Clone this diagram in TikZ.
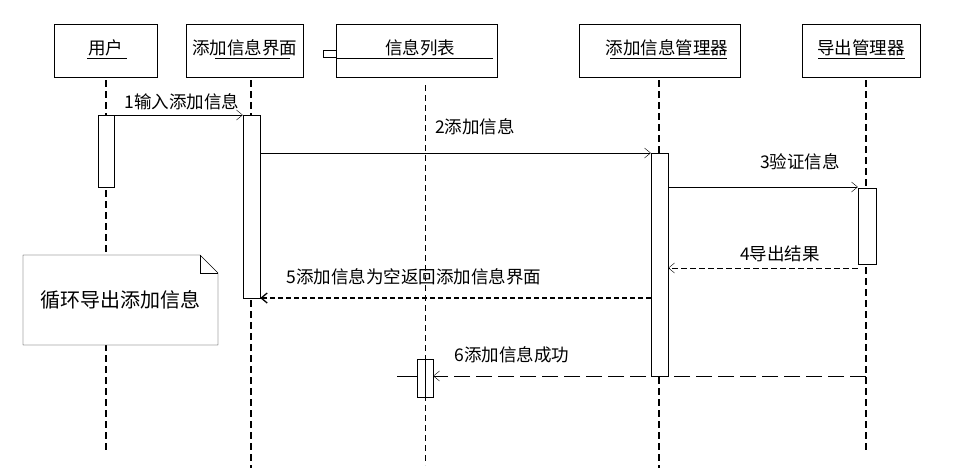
\documentclass[tikz,border=0pt]{standalone}
\usepackage{fontspec}
\setmainfont{Liberation Serif}
\newfontfamily\cjk{Noto Sans CJK SC}
\usetikzlibrary{arrows.meta}
\begin{document}
\begin{tikzpicture}[x=1pt,y=-1pt,
  obj/.style={draw,rectangle,inner sep=0pt},
  lbl/.style={font=\cjk\fontsize{17.5}{17.5}\selectfont,inner sep=1pt},
  act/.style={draw,fill=white,rectangle,inner sep=0pt},
  life/.style={line width=1.4pt,dash pattern=on 7pt off 4pt},
  thin life/.style={dash pattern=on 6pt off 4pt,line width=0.5pt},
  msg/.style={->,>={Straight Barb[length=6pt,width=10pt]}}, ]
\useasboundingbox (0,0) rectangle (963,472);
% objects
\node[obj,minimum width=103pt,minimum height=53pt] (o1) at (105.5,50.5) {};
\node[lbl] (t1) at (105.5,48) {用户};
\node[obj,minimum width=117pt,minimum height=53pt] (o2) at (244.5,50.5) {};
\node[lbl] (t2) at (244.5,48) {添加信息界面};
\node[obj,minimum width=161pt,minimum height=53pt] (o3) at (416.5,50.5) {};
\node[lbl] (t3) at (420,48) {信息列表};
\node[obj,minimum width=13pt,minimum height=7pt] (o3s) at (329.5,53.5) {};
\node[obj,minimum width=161pt,minimum height=53pt] (o4) at (659.5,50.5) {};
\node[lbl] (t4) at (667,48) {添加信息管理器};
\node[obj,minimum width=118pt,minimum height=53pt] (o5) at (861,50.5) {};
\node[lbl] (t5) at (861,48) {导出管理器};
\draw (87,58) -- (127,58);
\draw (215,58) -- (290,58);
\draw (336,58) -- (493,58);
\draw (610,58) -- (727,58);
\draw (818,58) -- (905,58);
% lifelines
\coordinate (l1e) at (106,450);
\coordinate (l2e) at (251,468);
\coordinate (l3s) at (425,85);
\coordinate (l3e) at (425,465);
\coordinate (l4e) at (659,468);
\coordinate (l5e) at (866,450);
\draw[life] (106,80) -- (l1e);
\draw[life] (251,80) -- (l2e);
\draw[thin life] (l3s) -- (l3e);
\draw[life] (659,80) -- (l4e);
\draw[life] (866,80) -- (l5e);
% activations
\node[act,minimum width=16pt,minimum height=72pt] (a1) at (106,151) {};
\node[act,minimum width=17pt,minimum height=183pt] (a2) at (251.5,206.5) {};
\node[act,minimum width=17pt,minimum height=223pt] (a4) at (659.5,264.5) {};
\node[act,minimum width=18pt,minimum height=76pt] (a5) at (867,226) {};
\node[draw,rectangle,inner sep=0pt,minimum width=16pt,minimum height=38pt] (a3) at (425,378) {};
\draw[thin life] (425,359) -- (425,397);
\coordinate (a3l) at (397,376);
\draw (a3l) -- (a3.west |- a3l);
% messages
\draw[msg] (a1.east |- 0,115) -- (a2.west |- 0,115);
\node[lbl] (m1) at (182,102) {1输入添加信息};
\draw[msg] (a2.east |- 0,153) -- (a4.west |- 0,153);
\node[lbl] (m2) at (475,127) {2添加信息};
\draw[msg] (a4.east |- 0,187) -- (a5.west |- 0,187);
\node[lbl] (m3) at (800,162) {3验证信息};
\draw[msg,dash pattern=on 6pt off 3pt] (a5.west |- 0,268) -- (a4.east |- 0,268);
\node[lbl] (m4) at (780,254) {4导出结果};
\draw[msg,line width=1.3pt,dash pattern=on 5pt off 3pt] (a4.west |- 0,298) -- (a2.east |- 0,298);
\node[lbl] (m5) at (414,277) {5添加信息为空返回添加信息界面};
\draw[msg,dash pattern=on 16pt off 6pt] (866,376) -- (a3.east |- 0,376);
\node[lbl] (m6) at (512,355) {6添加信息成功};
% note
\draw[fill=white] (23,255) -- (200,255) -- (218,273) -- (218,345) -- (23,345) -- cycle;
\draw (200,255) -- (200,273) -- (218,273);
\node[lbl,font=\cjk\fontsize{20}{20}\selectfont] (note) at (120,300) {循环导出添加信息};
\end{tikzpicture}
\end{document}
